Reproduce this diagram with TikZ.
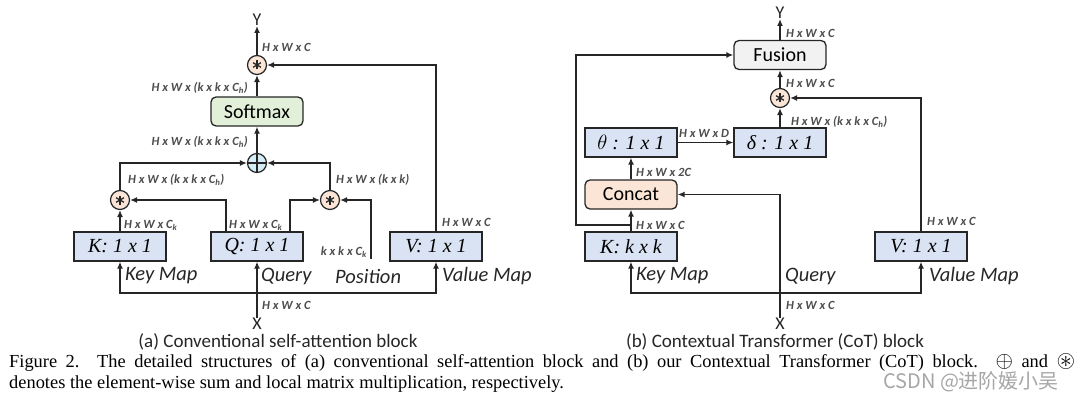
\documentclass[tikz,border=0pt]{standalone}
\usepackage{amssymb}
\usepackage{fontspec}
\setmainfont{Liberation Serif}
\newfontfamily\carlito{Carlito}
\newfontfamily\cjkfont{Noto Sans CJK SC}
\usetikzlibrary{arrows.meta}
\definecolor{ink}{HTML}{262626}
\definecolor{dimtext}{HTML}{4D4D4D}
\definecolor{keyblue}{HTML}{DAE3F3}
\definecolor{softgreen}{HTML}{E2F0D9}
\definecolor{fusegray}{HTML}{F2F2F2}
\definecolor{peach}{HTML}{FBE5D6}
\definecolor{sumcyan}{HTML}{D5EEF5}
\definecolor{mark}{HTML}{A6A6A6}
\tikzset{
  conn/.style={draw=ink, line width=1.4pt},
  arr/.style={conn, -{Latex[length=7pt,width=6pt]}},
  both/.style={conn, {Latex[length=7pt,width=6pt]}-{Latex[length=7pt,width=6pt]}},
  blk/.style={draw=ink, line width=1.3pt, fill=keyblue, minimum width=92pt, minimum height=29pt, inner sep=0pt, font=\fontsize{20}{20}\selectfont\itshape},
  rblk/.style={blk, rounded corners=5pt, font=\carlito\fontsize{20}{20}\selectfont},
  op/.style={circle, draw=ink, line width=1.2pt, minimum size=19pt, inner sep=0pt},
  mul/.style={op, fill=peach, path picture={
    \foreach \a in {30,90,...,330}
      \draw[ink, line width=1.3pt] (path picture bounding box.center) -- ++(\a:4.5pt);}},
  sum/.style={op, fill=sumcyan, path picture={
    \draw[ink, line width=1.2pt] (path picture bounding box.north) -- (path picture bounding box.south)
      (path picture bounding box.west) -- (path picture bounding box.east);}},
  dim/.style={text=dimtext, inner sep=0pt, font=\carlito\fontsize{12.5}{13}\selectfont\bfseries\itshape},
  lab/.style={text=ink, inner sep=0pt, anchor=west, font=\carlito\fontsize{20.5}{21}\selectfont\itshape},
  io/.style={text=ink, inner sep=0pt, font=\carlito\fontsize{18}{18}\selectfont},
  sub/.style={text=ink, inner sep=0pt, font=\carlito\fontsize{19}{19}\selectfont},
}
\newcommand{\hwc}{H x W x C}
\newcommand{\hwkk}{H x W x (k x k x C\textsubscript{h})}

\begin{document}
\begin{tikzpicture}[x=1pt, y=-1pt]
  \useasboundingbox (0,0) rectangle (1080,404);

  % (a) conventional self-attention
  \node[io] (yA) at (257,20) {Y};
  \node[mul] (mulA) at (257,65) {};
  \node[rblk, fill=softgreen] (softA) at (257,111.5) {Softmax};
  \node[sum] (sumA) at (257,163) {};
  \node[mul] (mulKA) at (120,200) {};
  \node[mul] (mulPA) at (330,200) {};
  \node[blk] (kA) at (120,246.5) {K: 1 x 1};
  \node[blk] (qA) at (257,246.5) {Q: 1 x 1};
  \node[blk] (vA) at (436,246.5) {V: 1 x 1};
  \node[io] (xA) at (257,324) {X};
  \coordinate (posA) at (371,259);
  \coordinate (railKA) at (120,293);
  \coordinate (railVA) at (436,293);

  \draw[arr] (mulA) -- (yA);
  \draw[arr] (softA) -- (mulA);
  \draw[arr] (sumA) -- (softA);
  \draw[arr] (mulKA) |- (sumA);
  \draw[arr] (mulPA) |- (sumA);
  \draw[arr] (kA) -- (mulKA);
  \draw[arr] ([xshift=-31pt]qA.north) |- (mulKA);
  \draw[arr] ([xshift=33pt]qA.north) |- (mulPA);
  \draw[arr] (posA) |- (mulPA);
  \draw[arr] (vA) |- (mulA);
  \draw[both] (kA.south) -- (railKA) -- (railVA) -- (vA.south);
  \draw[arr] (xA) -- (qA);

  \node[dim, anchor=west] at (262,47) {\hwc};
  \node[dim, anchor=east] at (248,88) {\hwkk};
  \node[dim, anchor=east] at (248,142) {\hwkk};
  \node[dim, anchor=west] at (128,180) {\hwkk};
  \node[dim, anchor=west] at (336,180) {H x W x (k x k)};
  \node[dim, anchor=west] at (124,225) {H x W x C\textsubscript{k}};
  \node[dim, anchor=west] at (229,225) {H x W x C\textsubscript{k}};
  \node[dim, anchor=east] at (367,252) {k x k x C\textsubscript{k}};
  \node[dim, anchor=west] at (442,222) {\hwc};
  \node[dim, anchor=west] at (262,305) {\hwc};
  \node[lab] at (125,276) {Key Map};
  \node[lab] at (261,276) {Query};
  \node[lab] at (335,276) {Position};
  \node[lab] at (442,276) {Value Map};
  \node[sub] (capA) at (278,342) {(a) Conventional self-attention block};

  % (b) contextual transformer
  \node[io] (yB) at (780,13) {Y};
  \node[rblk, fill=fusegray] (fuseB) at (780,55) {Fusion};
  \node[mul] (mulB) at (780,98) {};
  \node[blk] (thetaB) at (631,142.5) {$\theta$ : 1 x 1};
  \node[blk] (deltaB) at (780,142.5) {δ : 1 x 1};
  \node[rblk, fill=peach] (catB) at (631,194.5) {Concat};
  \node[blk] (kB) at (631,246.5) {K: k x k};
  \node[blk] (vB) at (921,246.5) {V: 1 x 1};
  \node[io] (xB) at (780,324) {X};
  \coordinate (brB) at (631,225);
  \coordinate (railKB) at (631,293);
  \coordinate (railVB) at (921,293);

  \draw[arr] (fuseB) -- (yB);
  \draw[arr] (mulB) -- (fuseB);
  \draw[arr] (deltaB) -- (mulB);
  \draw[arr] (thetaB) -- (deltaB);
  \draw[arr] (catB) -- (thetaB);
  \draw[arr] (kB) -- (catB);
  \draw[arr] (brB) -- ++(-55,0) |- (fuseB);
  \draw[arr] (xB) |- (catB);
  \draw[arr] (vB) |- (mulB);
  \draw[both] (kB.south) -- (railKB) -- (railVB) -- (vB.south);

  \node[dim, anchor=west] at (786,33) {\hwc};
  \node[dim, anchor=west] at (786,83) {\hwc};
  \node[dim, anchor=west] at (791,122) {\hwkk};
  \node[dim, anchor=west] at (679,133) {H x W x D};
  \node[dim, anchor=west] at (636,172) {H x W x 2C};
  \node[dim, anchor=west] at (636,225) {\hwc};
  \node[dim, anchor=west] at (927,221) {\hwc};
  \node[dim, anchor=west] at (786,305) {\hwc};
  \node[lab] at (636,276) {Key Map};
  \node[lab] at (785,276) {Query};
  \node[lab] at (929,276) {Value Map};
  \node[sub] (capB) at (775,342) {(b) Contextual Transformer (CoT) block};

  % figure caption
  \node[anchor=north west, text width=1066pt, align=justify, inner sep=0pt,
    font=\fontsize{18.4}{21}\selectfont] (figcap) at (9,353)
    {Figure 2. The detailed structures of (a) conventional self-attention block and (b) our Contextual Transformer (CoT) block. \scalebox{1.3}{$\oplus$} and \scalebox{1.3}{$\circledast$}\linebreak denotes the element-wise sum and local matrix multiplication, respectively.};
  \node[anchor=west, inner sep=0pt, text=mark, font=\cjkfont\fontsize{20}{20}\selectfont] (wmark) at (883,382) {CSDN @进阶媛小吴};
\end{tikzpicture}
\end{document}
